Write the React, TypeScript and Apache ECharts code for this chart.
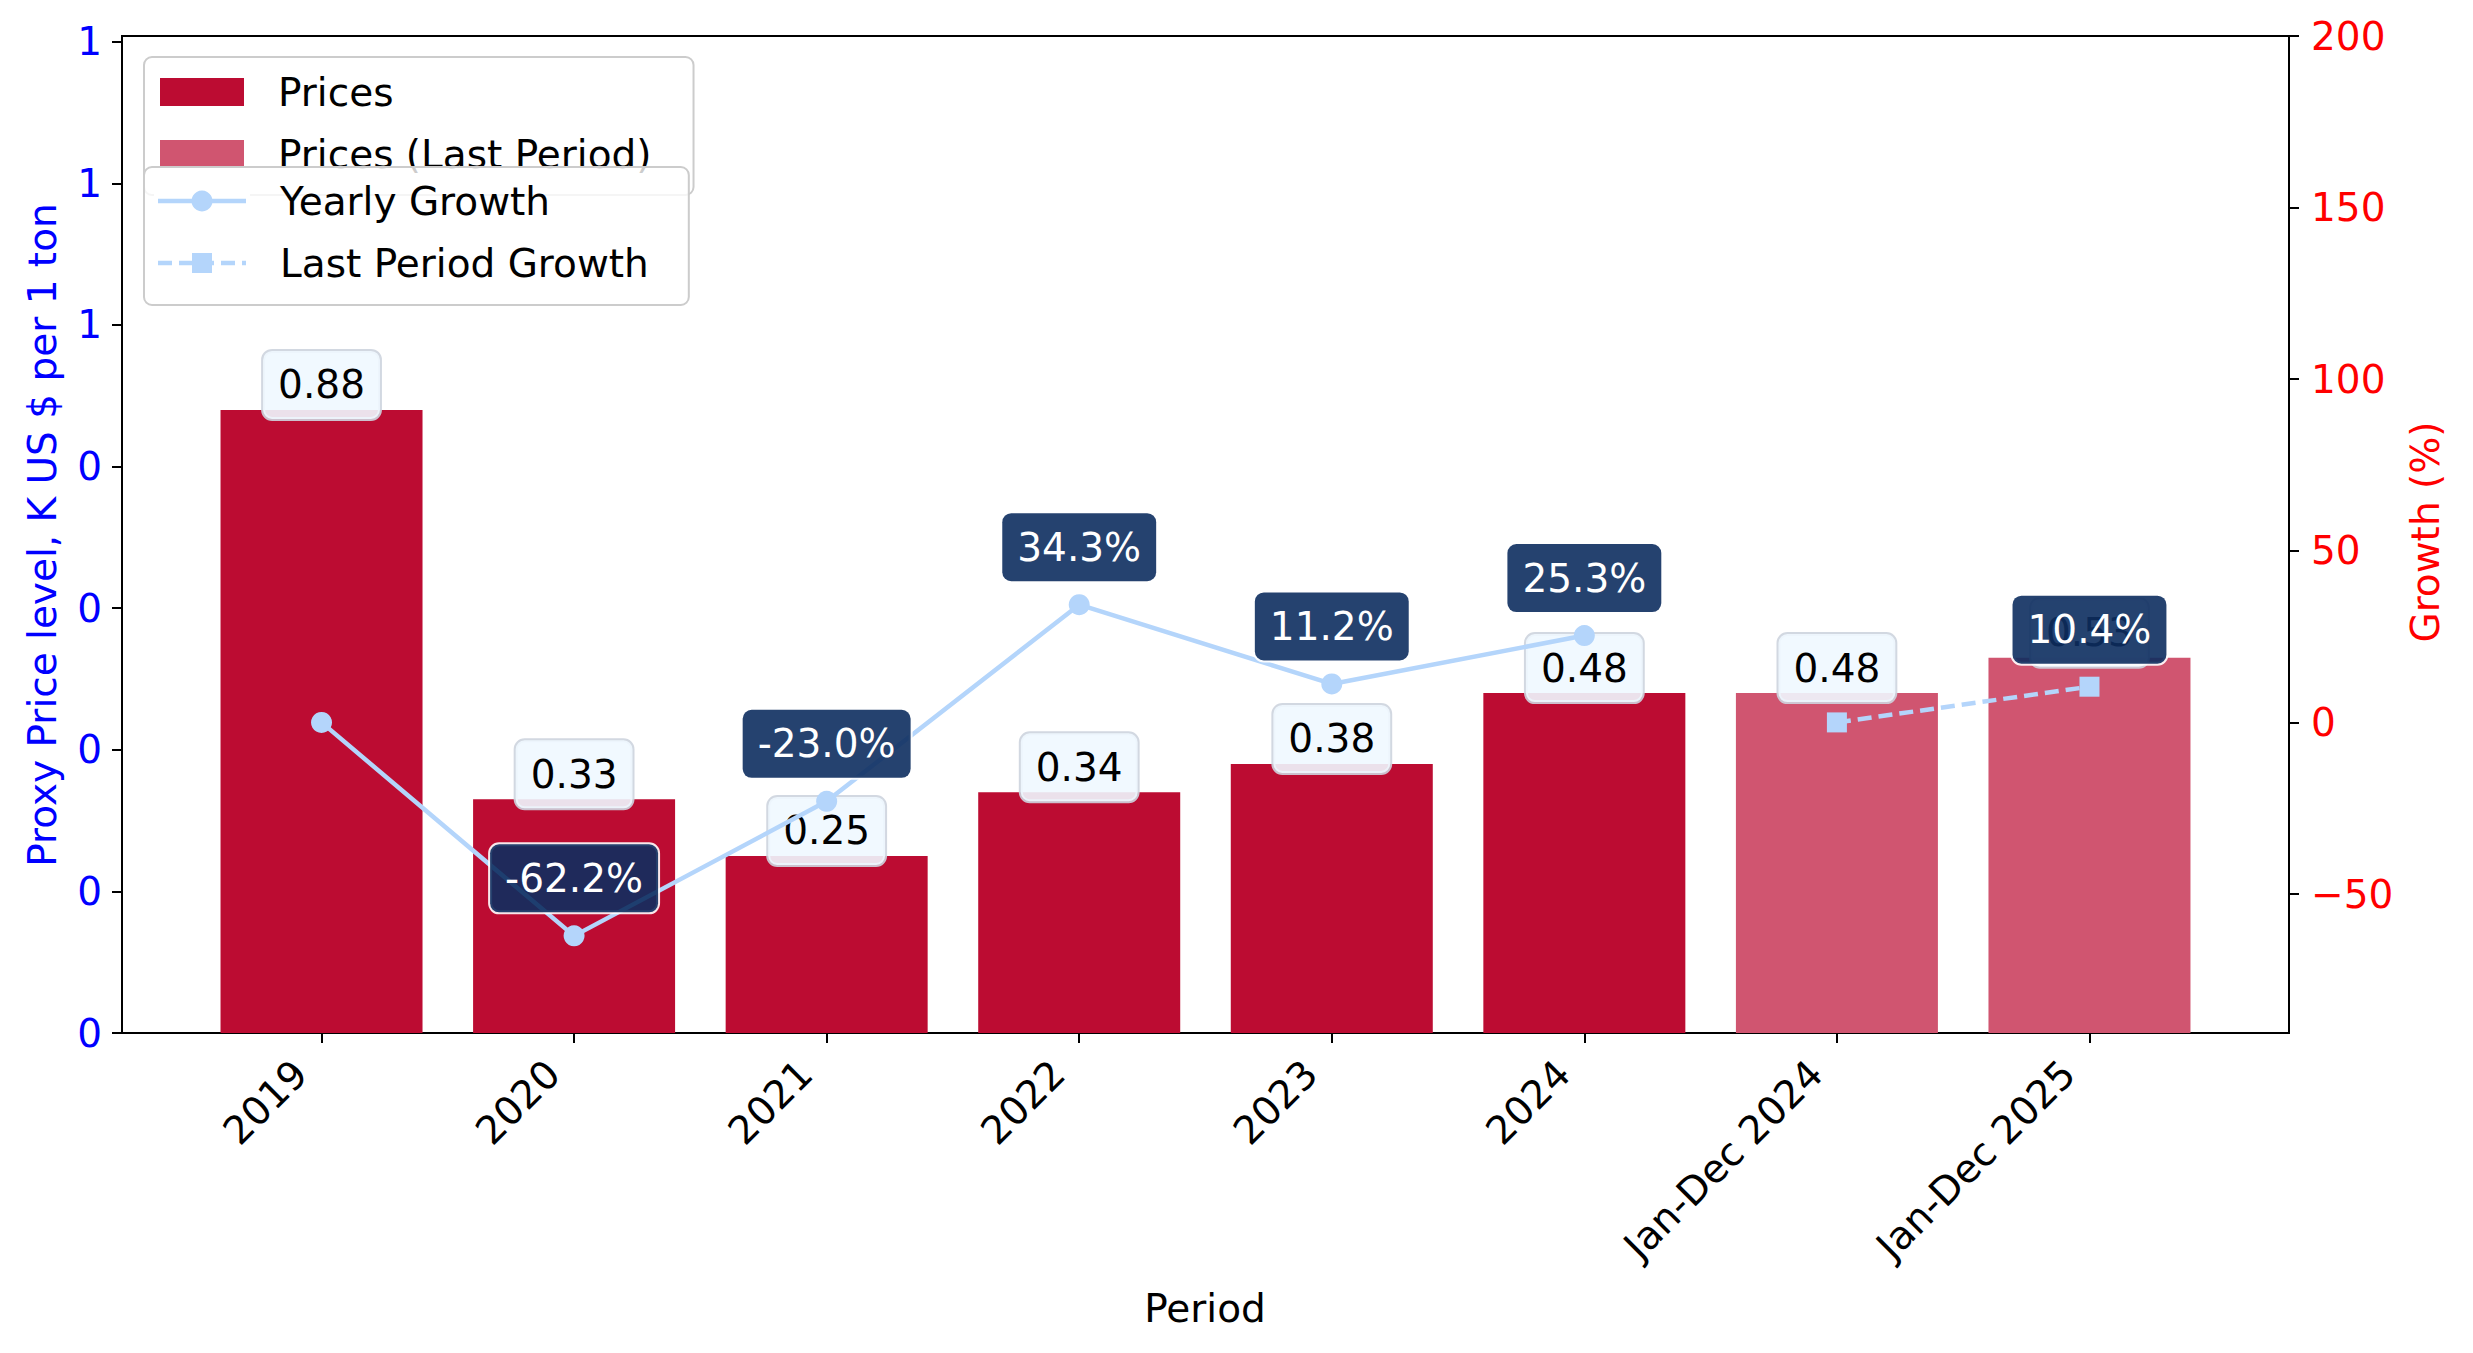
import React, { useEffect, useRef } from "react";
import * as echarts from "echarts";

const categories = ["2019", "2020", "2021", "2022", "2023", "2024", "Jan-Dec 2024", "Jan-Dec 2025"];
const prices = [0.88, 0.33, 0.25, 0.34, 0.38, 0.48];
const lastPeriodPrices = [0.48, 0.53];
const lastPeriodIndex = [6, 7];
const yearlyGrowth = [0, -62.2, -23.0, 34.3, 11.2, 25.3];
const yearlyGrowthLabeled = [false, true, true, true, true, true];
const lastPeriodGrowth = [0, 10.4];
const lastPeriodGrowthLabeled = [false, true];
const leftTicks = [0, 0.2, 0.4, 0.6, 0.8, 1.0, 1.2, 1.4];
const rightTicks = [-50, 0, 50, 100, 150, 200];
const xTicks = [0, 1, 2, 3, 4, 5, 6, 7];

const FONT = "DejaVu Sans";
const FS = 39;
const BAR = "#bc0c32";
const BAR_LAST = "#d05570";
const LINE = "#b4d5fb";

export default function App() {
  const ref = useRef<HTMLDivElement>(null);
  useEffect(() => {
    document.body.style.margin = "0";
    if (!ref.current) return;
    const chart = echarts.init(ref.current, null, { renderer: "svg" });

    const priceLabel = {
      show: true,
      position: "top",
      distance: 0,
      offset: [0, 9],
      formatter: (p: any) => Number(p.value[1]).toFixed(2),
      fontSize: FS,
      fontFamily: FONT,
      color: "#000",
      lineHeight: 46,
      padding: [11, 15],
      backgroundColor: "rgba(240,248,255,0.9)",
      borderColor: "rgba(205,212,222,0.9)",
      borderWidth: 2,
      borderRadius: 9,
    };
    const growthLabel = {
      show: false,
      position: "top",
      distance: 13,
      formatter: (p: any) => Number(p.value[1]).toFixed(1) + "%",
      fontSize: FS,
      fontFamily: FONT,
      color: "#fff",
      lineHeight: 46,
      padding: [11, 15],
      backgroundColor: "rgba(13,46,95,0.9)",
      borderColor: "rgba(255,255,255,0.9)",
      borderWidth: 2,
      borderRadius: 9,
    };
    const axisLineStyle = { show: true, onZero: false, lineStyle: { color: "#000", width: 2 } };

    // legend-2 handle geometry (thick line + marker, as in the reference)
    const hX1 = 158;
    const hX2 = 246;
    const hCx = 202;
    const row1 = 201;
    const row2 = 263;

    const option: any = {
      animation: false,
      backgroundColor: "#fff",
      textStyle: { fontFamily: FONT },
      grid: {
        left: 122,
        right: 184,
        top: 36,
        bottom: 320,
        show: true,
        borderColor: "#000",
        borderWidth: 2,
        backgroundColor: "transparent",
      },
      legend: [
        {
          data: ["Prices", "Prices (Last Period)"],
          orient: "vertical",
          left: 144,
          top: 57,
          padding: [12, 42, 18, 16],
          itemWidth: 84,
          itemHeight: 28,
          itemGap: 16,
          icon: "rect",
          backgroundColor: "rgba(255,255,255,0.8)",
          borderColor: "#cccccc",
          borderWidth: 2,
          borderRadius: 8,
          selectedMode: false,
          z: 10,
          textStyle: { fontSize: FS, fontFamily: FONT, color: "#000", lineHeight: 46, padding: [0, 0, 0, 29] },
        },
        {
          data: ["Yearly Growth", "Last Period Growth"],
          orient: "vertical",
          left: 144,
          top: 167,
          padding: [11, 40, 19, 14],
          itemWidth: 88,
          itemHeight: 20,
          itemGap: 16,
          backgroundColor: "rgba(255,255,255,0.8)",
          borderColor: "#cccccc",
          borderWidth: 2,
          borderRadius: 8,
          selectedMode: false,
          z: 11,
          textStyle: { fontSize: FS, fontFamily: FONT, color: "#000", lineHeight: 46, padding: [0, 0, 0, 28] },
        },
      ],
      xAxis: {
        type: "value",
        min: -0.79,
        max: 7.79,
        splitLine: { show: false },
        axisLine: axisLineStyle,
        axisTick: { show: true, length: 10, lineStyle: { color: "#000", width: 2 }, customValues: xTicks },
        axisLabel: {
          customValues: xTicks,
          rotate: 45,
          margin: 13,
          padding: [0, 30, 0, 0],
          fontSize: FS,
          fontFamily: FONT,
          color: "#000",
          formatter: (v: number) => categories[Math.round(v)] ?? "",
        },
      },
      yAxis: [
        {
          type: "value",
          min: 0,
          max: 1.408,
          position: "left",
          splitLine: { show: false },
          axisLine: axisLineStyle,
          axisTick: { show: true, length: 10, lineStyle: { color: "#000", width: 2 }, customValues: leftTicks },
          axisLabel: {
            customValues: leftTicks,
            margin: 20,
            fontSize: FS,
            fontFamily: FONT,
            color: "#0000ff",
            formatter: (v: number) => String(Math.floor(v + 1e-9)),
          },
        },
        {
          type: "value",
          min: -90.5,
          max: 200,
          position: "right",
          splitLine: { show: false },
          axisLine: axisLineStyle,
          axisTick: { show: true, length: 10, lineStyle: { color: "#000", width: 2 }, customValues: rightTicks },
          axisLabel: {
            customValues: rightTicks,
            margin: 22,
            fontSize: FS,
            fontFamily: FONT,
            color: "#ff0000",
            formatter: (v: number) => (v < 0 ? "\u2212" + Math.abs(v) : String(v)),
          },
        },
      ],
      series: [
        {
          name: "Prices",
          type: "bar",
          stack: "p",
          barWidth: 202,
          z: 2,
          itemStyle: { color: BAR },
          label: priceLabel,
          data: prices.map((v, i) => [i, v]),
        },
        {
          name: "Prices (Last Period)",
          type: "bar",
          stack: "p",
          barWidth: 202,
          z: 2,
          itemStyle: { color: BAR_LAST },
          label: priceLabel,
          data: lastPeriodPrices.map((v, i) => [lastPeriodIndex[i], v]),
        },
        {
          name: "Yearly Growth",
          type: "line",
          yAxisIndex: 1,
          z: 5,
          symbol: "circle",
          symbolSize: 21,
          lineStyle: { color: LINE, width: 4.5 },
          itemStyle: { color: LINE },
          label: growthLabel,
          data: yearlyGrowth.map((v, i) => ({ value: [i, v], label: { show: yearlyGrowthLabeled[i] } })),
        },
        {
          name: "Last Period Growth",
          type: "line",
          yAxisIndex: 1,
          z: 5,
          symbol: "rect",
          symbolSize: 20,
          lineStyle: { color: LINE, width: 4.5, type: [14, 7] },
          itemStyle: { color: LINE },
          label: growthLabel,
          data: lastPeriodGrowth.map((v, i) => ({
            value: [lastPeriodIndex[i], v],
            label: { show: lastPeriodGrowthLabeled[i] },
          })),
        },
      ],
      graphic: [
        { type: "rect", z: 100, shape: { x: 154, y: row1 - 12, width: 96, height: 24 }, style: { fill: "#fff" } },
        { type: "rect", z: 100, shape: { x: 154, y: row2 - 12, width: 96, height: 24 }, style: { fill: "#fff" } },
        {
          type: "line",
          z: 101,
          shape: { x1: hX1, y1: row1, x2: hX2, y2: row1 },
          style: { stroke: LINE, lineWidth: 4.5 },
        },
        { type: "circle", z: 102, shape: { cx: hCx, cy: row1, r: 10.5 }, style: { fill: LINE } },
        {
          type: "line",
          z: 101,
          shape: { x1: hX1, y1: row2, x2: hX2, y2: row2 },
          style: { stroke: LINE, lineWidth: 4.5, lineDash: [14, 7] },
        },
        { type: "rect", z: 102, shape: { x: hCx - 10, y: row2 - 10, width: 20, height: 20 }, style: { fill: LINE } },
        {
          type: "text",
          x: 42,
          y: 535,
          rotation: Math.PI / 2,
          style: {
            text: "Proxy Price level, K US $ per 1 ton",
            fill: "#0000ff",
            fontSize: FS,
            fontFamily: FONT,
            align: "center",
            verticalAlign: "middle",
          },
        },
        {
          type: "text",
          x: 2425,
          y: 532,
          rotation: Math.PI / 2,
          style: {
            text: "Growth (%)",
            fill: "#ff0000",
            fontSize: FS,
            fontFamily: FONT,
            align: "center",
            verticalAlign: "middle",
          },
        },
        {
          type: "text",
          x: 1205,
          y: 1308,
          style: {
            text: "Period",
            fill: "#000",
            fontSize: FS,
            fontFamily: FONT,
            align: "center",
            verticalAlign: "middle",
          },
        },
      ],
    };
    chart.setOption(option);
    return () => chart.dispose();
  }, []);
  return <div ref={ref} style={{ width: 2473, height: 1353 }} />;
}
